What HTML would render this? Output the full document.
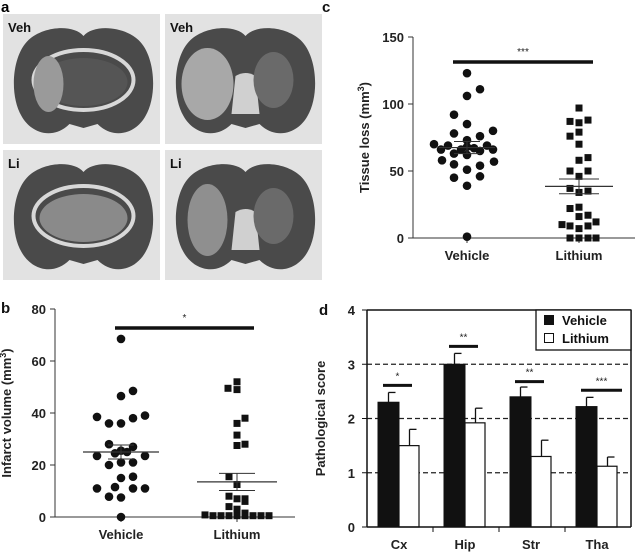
<!DOCTYPE html>
<html><head><meta charset="utf-8"><style>
html,body{margin:0;padding:0;background:#fff}
svg{display:block;font-family:"Liberation Sans",Arial,sans-serif}
</style></head><body>
<svg id="fig" width="636" height="556" viewBox="0 0 636 556">
<g id="panelA">
<text x="1" y="12" font-size="15" font-weight="bold">a</text>
</g>
<g id="panelC"></g>
<g id="panelB"></g>
<g id="panelD"></g>
</svg>
<script>
// ---------- DATA ----------
// panel c: tissue loss (mm3)
const cCategories = ["Vehicle","Lithium"];
const cVehicleVals = [123,111,106,92,85,78,80,73,76,70,69,66,63,68,66,67,65,69,66,62,58,55,57,51,54,45,46,39,1];
const cVehicleOff  = [0,13,0,-13,0,-13,26,0,13,-33,-19,-26,-13,0,-6,7,13,20,26,0,-25,-13,27,0,13,-13,13,0,0];
const cLithiumVals = [97,87,86,88,76,79,70,60,58,50,50,46,37,35,34,22,23,16,17,10,9,7,9,12,0,0,0,0];
const cLithiumOff  = [0,-9,0,9,-9,0,0,9,0,-9,9,0,-9,9,0,-9,0,0,9,-17,-9,0,9,17,-9,0,9,17];
const cMeans = [67.5,38.5];
const cSem = [4.5,5.5];
const cTicks = [0,50,100,150];
// panel b: infarct volume (mm3)
const bCategories = ["Vehicle","Lithium"];
const bVehicleVals = [68.5,48.5,46.5,38.5,36,36,38,39,28,27,23.5,24.5,25.5,25,23.5,20,21,21,15,15.5,11,11.5,11,11,7.8,7.5,0];
const bVehicleOff  = [0,12,0,-24,-12,0,12,24,-12,12,-24,-6,0,6,24,-12,0,12,0,12,-24,-6,12,24,-12,0,0];
const bLithiumVals = [49.5,52,49,36,38,31.5,27.5,28,15.5,12.5,8,7,6,7,4,3,1.5,1.5,0.8,0.5,0.5,0.5,0.5,0.5,0.5,0.5,0.5];
const bLithiumOff  = [-9,0,0,0,8,0,0,8,-8,0,-8,0,8,8,-8,0,0,8,-32,-24,-16,-8,0,8,16,24,32];
const bMeans = [25,13.5];
const bSem = [2.7,3.3];
const bTicks = [0,20,40,60,80];
// panel d: pathological score
const dCategories = ["Cx","Hip","Str","Tha"];
const dVehicle = [2.3,3.0,2.4,2.22];
const dVehicleErr = [0.18,0.2,0.18,0.17];
const dLithium = [1.5,1.92,1.3,1.12];
const dLithiumErr = [0.3,0.27,0.3,0.17];
const dSigLabels = ["*","**","**","***"];
const dSigLevel = [2.61,3.33,2.68,2.52];
const dTicks = [0,1,2,3,4];

const NS="http://www.w3.org/2000/svg";
function mk(parent,tag,attrs,text){const e=document.createElementNS(NS,tag);for(const k in attrs)e.setAttribute(k,attrs[k]);if(text!==undefined)e.textContent=text;parent.appendChild(e);return e;}

// ---------- PANEL A (brain images) ----------
const A=document.getElementById('panelA');
const tiles=[[3,14,"Veh",0],[165,14,"Veh",1],[3,150,"Li",2],[165,150,"Li",3]];
tiles.forEach((t,i)=>{
  const [x,y,lab,k]=t; const w=157,h=130;
  const g=mk(A,'g',{transform:`translate(${x},${y})`});
  
  
  mk(g,'rect',{x:0,y:0,width:w,height:h,fill:'#e2e2e2'});
  const cx=w/2+2, top=12, bot=h-6;
  const d=`M${cx},${top+10} C${cx-10},${top-2} ${cx-40},${top} ${cx-55},${top+14} C${cx-72},${top+30} ${cx-74},${top+70} ${cx-62},${bot-22} C${cx-52},${bot-4} ${cx-30},${bot+2} ${cx-14},${bot-14} L${cx},${bot-10} L${cx+14},${bot-14} C${cx+30},${bot+2} ${cx+52},${bot-4} ${cx+62},${bot-22} C${cx+74},${top+70} ${cx+72},${top+30} ${cx+55},${top+14} C${cx+40},${top} ${cx+10},${top-2} ${cx},${top+10} Z`;
  mk(g,'path',{d:d,fill:'#4a4a4a'});
  if(k===0||k===2){
    mk(g,'ellipse',{cx:cx,cy:66,rx:50,ry:30,fill:'none',stroke:'#d8d8d8','stroke-width':4});
    mk(g,'ellipse',{cx:cx,cy:68,rx:44,ry:24,fill:k===2?'#8a8a8a':'#555'});
    if(k===0) mk(g,'ellipse',{cx:cx-35,cy:70,rx:15,ry:28,fill:'#9a9a9a'});
  } else {
    mk(g,'path',{d:`M${cx-10},${62} Q${cx},${56} ${cx+10},${62} L${cx+14},${100} L${cx-14},${100} Z`,fill:'#d0d0d0'});
    mk(g,'ellipse',{cx:cx+28,cy:66,rx:20,ry:28,fill:'#6a6a6a'});
    mk(g,'ellipse',{cx:cx-38,cy:70,rx:k===1?26:20,ry:36,fill:k===1?'#a8a8a8':'#8f8f8f'});
  }
  const tx=mk(g,'text',{x:5,y:18,'font-size':13,'font-weight':'bold',fill:'#111'},lab);
  
  
});

// ---------- scatter panel helper ----------
function scatter(G,o){
  const ys=v=>o.y0-(v-o.vmin)/(o.vmax-o.vmin)*(o.y0-o.y1);
  mk(G,'line',{x1:o.ax,y1:o.y1,x2:o.ax,y2:o.y0,stroke:'#333','stroke-width':1});
  mk(G,'line',{x1:o.ax,y1:o.y0,x2:o.axEnd,y2:o.y0,stroke:'#333','stroke-width':1});
  o.ticks.forEach(t=>{
    mk(G,'line',{x1:o.ax-5,y1:ys(t),x2:o.ax,y2:ys(t),stroke:'#333'});
    const e=mk(G,'text',{x:o.ax-9,y:ys(t)+5,'font-size':13,'font-weight':'bold','text-anchor':'end',fill:'#222'},t);
    
    
  });
  o.cats.forEach((c,i)=>{
    mk(G,'line',{x1:o.cx[i],y1:o.y0,x2:o.cx[i],y2:o.y0+5,stroke:'#333'});
    const e=mk(G,'text',{x:o.cx[i],y:o.y0+22,'font-size':13,'font-weight':'bold','text-anchor':'middle',fill:'#222'},c);
    
    
  });
  const yl=mk(G,'text',{transform:`translate(${o.ylx},${(o.y0+o.y1)/2}) rotate(-90)`,'font-size':13,'font-weight':'bold','text-anchor':'middle',fill:'#222'});
  
  
  yl.innerHTML=o.ylabel;
  o.vals[0].forEach((v,j)=>{
    const e=mk(G,'circle',{cx:o.cx[0]+o.offs[0][j],cy:ys(v),r:4.3,fill:'#111'});
    
    
  });
  o.vals[1].forEach((v,j)=>{
    const e=mk(G,'rect',{x:o.cx[1]+o.offs[1][j]-3.5,y:ys(v)-3.5,width:7,height:7,fill:'#111'});
    
    
  });
  [0,1].forEach(i=>{
    const m=o.means[i],s=o.sem[i],x=o.cx[i];
    const e=mk(G,'line',{x1:x-o.mw[i],y1:ys(m),x2:x+o.mw[i],y2:ys(m),stroke:'#333','stroke-width':1.2});
    
    
    mk(G,'line',{x1:x,y1:ys(m+s),x2:x,y2:ys(m-s),stroke:'#333','stroke-width':1});
    mk(G,'line',{x1:x-o.cw[i],y1:ys(m+s),x2:x+o.cw[i],y2:ys(m+s),stroke:'#333','stroke-width':1});
    mk(G,'line',{x1:x-o.cw[i],y1:ys(m-s),x2:x+o.cw[i],y2:ys(m-s),stroke:'#333','stroke-width':1});
  });
  const sb=mk(G,'line',{x1:o.sig[0],y1:o.sig[2],x2:o.sig[1],y2:o.sig[2],stroke:'#111','stroke-width':3.5});
  
  
  const st=mk(G,'text',{x:(o.sig[0]+o.sig[1])/2,y:o.sig[2]-7,'font-size':10,'text-anchor':'middle',fill:'#222'},o.star);
  
  
  const pl=mk(G,'text',{x:o.plx,y:o.ply,'font-size':15,'font-weight':'bold',fill:'#111'},o.plabel);
  
  
}

scatter(document.getElementById('panelC'),{ax:413,axEnd:635,y0:238,y1:37,vmin:0,vmax:150,ticks:cTicks,cats:cCategories,cx:[467,579],
 vals:[cVehicleVals,cLithiumVals],offs:[cVehicleOff,cLithiumOff],means:cMeans,sem:cSem,mw:[28,34],cw:[13,20],
 sig:[453,593,62],star:"***",ylx:369,ylabel:'Tissue loss (mm<tspan dy="-5" font-size="9">3</tspan><tspan dy="5">)</tspan>',plx:322,ply:12,plabel:"c"});

scatter(document.getElementById('panelB'),{ax:55,axEnd:295,y0:517,y1:309,vmin:0,vmax:80,ticks:bTicks,cats:bCategories,cx:[121,237],
 vals:[bVehicleVals,bLithiumVals],offs:[bVehicleOff,bLithiumOff],means:bMeans,sem:bSem,mw:[38,40],cw:[13,18],
 sig:[115,254,328],star:"*",ylx:11,ylabel:'Infarct volume (mm<tspan dy="-5" font-size="9">3</tspan><tspan dy="5">)</tspan>',plx:1,ply:313,plabel:"b"});

// ---------- PANEL D ----------
(function(){
  const G=document.getElementById('panelD');
  const ax=367,right=631,y0=527,y1=310;
  const ys=v=>y0-v/4*(y0-y1);
  const gw=(right-ax)/4;
  const cx=i=>ax+gw*(i+0.5)-1;
  [1,2,3].forEach(v=>mk(G,'line',{x1:ax,y1:ys(v),x2:right,y2:ys(v),stroke:'#222','stroke-width':1.2,'stroke-dasharray':'5,3'}));
  dCategories.forEach((c,i)=>{
    const x=cx(i), bw=21;
    const vb=mk(G,'rect',{x:x-bw,y:ys(dVehicle[i]),width:bw,height:y0-ys(dVehicle[i]),fill:'#111',stroke:'#111'});
    
    
    const lb=mk(G,'rect',{x:x,y:ys(dLithium[i]),width:bw-1,height:y0-ys(dLithium[i]),fill:'#fff',stroke:'#111','stroke-width':1.2});
    
    
    [[x-bw/2,dVehicle[i],dVehicleErr[i]],[x+bw/2,dLithium[i],dLithiumErr[i]]].forEach(([ex,v,e])=>{
      mk(G,'line',{x1:ex,y1:ys(v),x2:ex,y2:ys(v+e),stroke:'#111','stroke-width':1.3});
      mk(G,'line',{x1:ex,y1:ys(v+e),x2:ex+7,y2:ys(v+e),stroke:'#111','stroke-width':1.3});
    });
    const sx0=x-bw+5, sx1=(i===3)?x+bw+4:x+bw-8;
    const sb=mk(G,'line',{x1:sx0,y1:ys(dSigLevel[i]),x2:sx1,y2:ys(dSigLevel[i]),stroke:'#111','stroke-width':3});
    
    
    const st=mk(G,'text',{x:(sx0+sx1)/2,y:ys(dSigLevel[i])-6,'font-size':10,'text-anchor':'middle',fill:'#222'},dSigLabels[i]);
    
    
    const t=mk(G,'text',{x:x,y:y0+22,'font-size':13,'font-weight':'bold','text-anchor':'middle',fill:'#222'},c);
    
    
    if(i<3) mk(G,'line',{x1:ax+gw*(i+1),y1:y0,x2:ax+gw*(i+1),y2:y0+5,stroke:'#111'});
  });
  mk(G,'line',{x1:ax,y1:y1,x2:ax,y2:y0,stroke:'#111','stroke-width':1.5});
  mk(G,'line',{x1:ax,y1:y0,x2:right,y2:y0,stroke:'#111','stroke-width':1.5});
  mk(G,'line',{x1:right,y1:y1,x2:right,y2:y0,stroke:'#111','stroke-width':1.5});
  mk(G,'line',{x1:ax,y1:y1,x2:right,y2:y1,stroke:'#111','stroke-width':1.5});
  dTicks.forEach(t=>{
    mk(G,'line',{x1:ax-5,y1:ys(t),x2:ax,y2:ys(t),stroke:'#111'});
    const e=mk(G,'text',{x:ax-12,y:ys(t)+5,'font-size':13,'font-weight':'bold','text-anchor':'end',fill:'#222'},t);
    
    
  });
  const yl=mk(G,'text',{transform:`translate(325,${(y0+y1)/2}) rotate(-90)`,'font-size':13,'font-weight':'bold','text-anchor':'middle',fill:'#222'},'Pathological score');
  
  
  const lg=mk(G,'g',{});
  
  
  mk(lg,'rect',{x:536,y:310,width:95,height:40,fill:'#fff',stroke:'#111','stroke-width':1.3});
  mk(lg,'rect',{x:544,y:315,width:10,height:10,fill:'#111'});
  mk(lg,'rect',{x:544.5,y:333.5,width:9,height:9,fill:'#fff',stroke:'#111'});
  const l1=mk(lg,'text',{x:562,y:325,'font-size':13,'font-weight':'bold',fill:'#111'},'Vehicle');
  
  
  const l2=mk(lg,'text',{x:562,y:343,'font-size':13,'font-weight':'bold',fill:'#111'},'Lithium');
  
  
  const pl=mk(G,'text',{x:319,y:315,'font-size':15,'font-weight':'bold',fill:'#111'},'d');
  
  
})();
</script>
</body></html>
